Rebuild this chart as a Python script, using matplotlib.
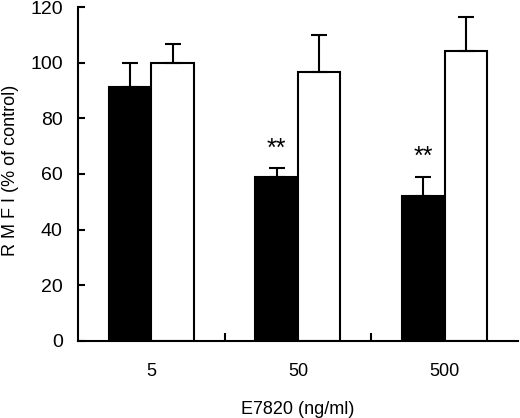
import numpy as np
from matplotlib import pyplot as plt

doses = ["5", "50", "500"]
black_vals = [91.2, 58.9, 52.1]
black_err = [8.8, 3.1, 6.8]
white_vals = [100.0, 96.8, 104.3]
white_err = [6.9, 13.4, 12.1]
stars = ["", "**", "**"]

plt.rcParams['font.family'] = ['Liberation Sans', 'DejaVu Sans']

fig = plt.figure(figsize=(5.2, 4.18), dpi=100)
ax = fig.add_axes([0.15, 0.185, 0.846, 0.7975])

x = np.arange(len(doses))
w = 0.29
ax.bar(x - w / 2, black_vals, w, color='black', edgecolor='black', linewidth=1.5,
       yerr=[np.zeros(3), black_err],
       error_kw=dict(ecolor='black', elinewidth=1.5, capsize=6, capthick=1.5))
ax.bar(x + w / 2, white_vals, w, color='white', edgecolor='black', linewidth=1.5,
       yerr=[np.zeros(3), white_err],
       error_kw=dict(ecolor='black', elinewidth=1.5, capsize=6, capthick=1.5))

for i, s in enumerate(stars):
    if s:
        ax.text(x[i] - w / 2, black_vals[i] + black_err[i] + 4.6, s,
                ha='center', va='baseline', fontsize=18)

ax.set_xlim(-0.5, 2.5)
ax.set_ylim(0, 120)
ax.set_yticks(range(0, 121, 20))
ax.set_xticks(x)
ax.set_xticklabels(doses)
ax.set_xticks([0.5, 1.5], minor=True)
ax.tick_params(axis='x', which='major', length=0, pad=16, labelsize=13)
ax.tick_params(axis='x', which='minor', direction='in', length=6, width=1.5)
ax.tick_params(axis='y', direction='in', length=5, width=1.5, labelsize=14, pad=11)

for side in ['top', 'right']:
    ax.spines[side].set_visible(False)
for side in ['left', 'bottom']:
    ax.spines[side].set_linewidth(1.5)

ax.set_xlabel("E7820 (ng/ml)", fontsize=13, labelpad=15)
ax.set_ylabel("R M F I (% of control)", fontsize=13)
ax.yaxis.set_label_coords(-0.134, 0.51)

fig.savefig("out.png", dpi=100)
